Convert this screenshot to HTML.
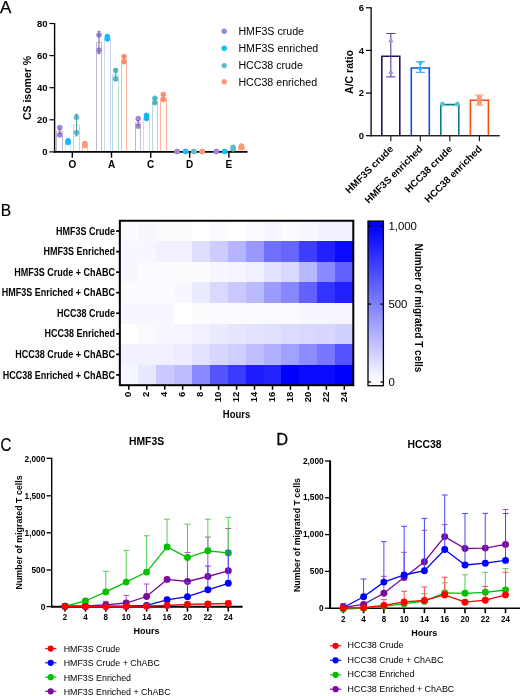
<!DOCTYPE html>
<html lang="en"><head><meta charset="utf-8"><title>Figure</title>
<style>
html,body{margin:0;padding:0;background:#fff;}
body{width:520px;height:696px;overflow:hidden;}
svg{display:block;font-family:'Liberation Sans', sans-serif;}
</style></head><body>
<svg width="520" height="696" viewBox="0 0 520 696">
<rect width="520" height="696" fill="#fff"/>
<text transform="translate(0.0 12.7) scale(1.0 1)" font-size="17" font-weight="normal" fill="#000" stroke="#000" stroke-width="0.25">A</text>
<text transform="translate(0.8 216.3) scale(0.9 1)" font-size="17.3" font-weight="normal" fill="#000" stroke="#000" stroke-width="0.25">B</text>
<text transform="translate(0.45 450.7) scale(0.83 1)" font-size="18" font-weight="normal" fill="#000" stroke="#000" stroke-width="0.25">C</text>
<text transform="translate(276.3 444.8) scale(0.95 1)" font-size="17.3" font-weight="normal" fill="#000" stroke="#000" stroke-width="0.25">D</text>
<line x1="49.40" y1="151.90" x2="54.60" y2="151.90" stroke="#000" stroke-width="1.2"/>
<text x="47.6" y="154.9" font-size="9.5" font-weight="bold" text-anchor="end" fill="#000">0</text>
<line x1="49.40" y1="119.80" x2="54.60" y2="119.80" stroke="#000" stroke-width="1.2"/>
<text x="47.6" y="122.80000000000001" font-size="9.5" font-weight="bold" text-anchor="end" fill="#000">20</text>
<line x1="49.40" y1="87.70" x2="54.60" y2="87.70" stroke="#000" stroke-width="1.2"/>
<text x="47.6" y="90.7" font-size="9.5" font-weight="bold" text-anchor="end" fill="#000">40</text>
<line x1="49.40" y1="55.60" x2="54.60" y2="55.60" stroke="#000" stroke-width="1.2"/>
<text x="47.6" y="58.60000000000001" font-size="9.5" font-weight="bold" text-anchor="end" fill="#000">60</text>
<line x1="49.40" y1="23.50" x2="54.60" y2="23.50" stroke="#000" stroke-width="1.2"/>
<text x="47.6" y="26.5" font-size="9.5" font-weight="bold" text-anchor="end" fill="#000">80</text>
<text transform="translate(31.2 88) rotate(-90) scale(0.9 1)" font-size="11.67" font-weight="bold" text-anchor="middle" fill="#000">CS isomer %</text>
<line x1="72.30" y1="151.90" x2="72.30" y2="157.70" stroke="#000" stroke-width="1.4"/>
<text x="72.3" y="167.8" font-size="10" font-weight="bold" text-anchor="middle" fill="#000">O</text>
<path d="M56.5 151.90 V131.36 H62.5 V151.90" fill="#fff" stroke="#b9b1d0" stroke-width="0.9"/>
<path d="M65.5 151.90 V141.95 H70.5 V151.90" fill="#fff" stroke="#cdd4fb" stroke-width="0.9"/>
<path d="M73.5 151.90 V125.10 H79.5 V151.90" fill="#fff" stroke="#b0d6d9" stroke-width="0.9"/>
<path d="M82.5 151.90 V144.68 H87.5 V151.90" fill="#fff" stroke="#ffae95" stroke-width="0.9"/>
<line x1="111.50" y1="151.90" x2="111.50" y2="157.70" stroke="#000" stroke-width="1.4"/>
<text x="111.5" y="167.8" font-size="10" font-weight="bold" text-anchor="middle" fill="#000">A</text>
<path d="M96.5 151.90 V42.44 H101.5 V151.90" fill="#fff" stroke="#b9b1d0" stroke-width="0.9"/>
<path d="M104.5 151.90 V38.27 H110.5 V151.90" fill="#fff" stroke="#cdd4fb" stroke-width="0.9"/>
<path d="M112.5 151.90 V74.86 H118.5 V151.90" fill="#fff" stroke="#b0d6d9" stroke-width="0.9"/>
<path d="M121.5 151.90 V59.61 H126.5 V151.90" fill="#fff" stroke="#ffae95" stroke-width="0.9"/>
<line x1="150.70" y1="151.90" x2="150.70" y2="157.70" stroke="#000" stroke-width="1.4"/>
<text x="150.7" y="167.8" font-size="10" font-weight="bold" text-anchor="middle" fill="#000">C</text>
<path d="M135.5 151.90 V122.69 H140.5 V151.90" fill="#fff" stroke="#b9b1d0" stroke-width="0.9"/>
<path d="M143.5 151.90 V117.71 H149.5 V151.90" fill="#fff" stroke="#cdd4fb" stroke-width="0.9"/>
<path d="M152.5 151.90 V100.86 H157.5 V151.90" fill="#fff" stroke="#b0d6d9" stroke-width="0.9"/>
<path d="M160.5 151.90 V97.81 H166.5 V151.90" fill="#fff" stroke="#ffae95" stroke-width="0.9"/>
<line x1="189.70" y1="151.90" x2="189.70" y2="157.70" stroke="#000" stroke-width="1.4"/>
<text x="189.7" y="167.8" font-size="10" font-weight="bold" text-anchor="middle" fill="#000">D</text>
<line x1="228.90" y1="151.90" x2="228.90" y2="157.70" stroke="#000" stroke-width="1.4"/>
<text x="228.9" y="167.8" font-size="10" font-weight="bold" text-anchor="middle" fill="#000">E</text>
<path d="M230.5 151.90 V148.21 H235.5 V151.90" fill="#fff" stroke="#b0d6d9" stroke-width="0.9"/>
<path d="M238.5 151.90 V147.09 H244.5 V151.90" fill="#fff" stroke="#ffae95" stroke-width="0.9"/>
<line x1="54.60" y1="23.00" x2="54.60" y2="152.80" stroke="#000" stroke-width="1.4"/>
<line x1="53.90" y1="151.90" x2="247.50" y2="151.90" stroke="#000" stroke-width="1.9"/>
<circle cx="59.75" cy="127.50" r="2.75" fill="#a384d8"/>
<circle cx="59.75" cy="135.05" r="2.75" fill="#a384d8"/>
<line x1="59.75" y1="129.27" x2="59.75" y2="133.44" stroke="#6f55ab" stroke-width="0.95"/>
<line x1="58.15" y1="129.27" x2="61.35" y2="129.27" stroke="#6f55ab" stroke-width="0.8"/>
<line x1="58.15" y1="133.44" x2="61.35" y2="133.44" stroke="#6f55ab" stroke-width="0.8"/>
<circle cx="68.10" cy="140.83" r="2.75" fill="#12bdfb"/>
<circle cx="68.10" cy="142.59" r="2.75" fill="#12bdfb"/>
<circle cx="76.50" cy="117.23" r="2.75" fill="#62bcc6"/>
<circle cx="76.50" cy="132.48" r="2.75" fill="#62bcc6"/>
<line x1="76.50" y1="114.26" x2="76.50" y2="135.93" stroke="#3f9dac" stroke-width="0.95"/>
<line x1="74.90" y1="114.26" x2="78.10" y2="114.26" stroke="#3f9dac" stroke-width="0.8"/>
<line x1="74.90" y1="135.93" x2="78.10" y2="135.93" stroke="#3f9dac" stroke-width="0.8"/>
<circle cx="84.85" cy="143.55" r="2.75" fill="#fb9a78"/>
<circle cx="84.85" cy="145.48" r="2.75" fill="#fb9a78"/>
<circle cx="98.95" cy="35.06" r="2.75" fill="#a384d8"/>
<circle cx="98.95" cy="50.14" r="2.75" fill="#a384d8"/>
<line x1="98.95" y1="31.28" x2="98.95" y2="53.59" stroke="#6f55ab" stroke-width="0.95"/>
<line x1="97.35" y1="31.28" x2="100.55" y2="31.28" stroke="#6f55ab" stroke-width="0.8"/>
<line x1="97.35" y1="53.59" x2="100.55" y2="53.59" stroke="#6f55ab" stroke-width="0.8"/>
<circle cx="107.30" cy="36.50" r="2.75" fill="#12bdfb"/>
<circle cx="107.30" cy="39.07" r="2.75" fill="#12bdfb"/>
<circle cx="115.70" cy="70.53" r="2.75" fill="#62bcc6"/>
<circle cx="115.70" cy="78.87" r="2.75" fill="#62bcc6"/>
<line x1="115.70" y1="69.08" x2="115.70" y2="80.64" stroke="#3f9dac" stroke-width="0.95"/>
<line x1="114.10" y1="69.08" x2="117.30" y2="69.08" stroke="#3f9dac" stroke-width="0.8"/>
<line x1="114.10" y1="80.64" x2="117.30" y2="80.64" stroke="#3f9dac" stroke-width="0.8"/>
<circle cx="124.05" cy="56.56" r="2.75" fill="#fb9a78"/>
<circle cx="124.05" cy="61.86" r="2.75" fill="#fb9a78"/>
<line x1="124.05" y1="56.40" x2="124.05" y2="62.82" stroke="#f07a55" stroke-width="0.95"/>
<line x1="122.45" y1="56.40" x2="125.65" y2="56.40" stroke="#f07a55" stroke-width="0.8"/>
<line x1="122.45" y1="62.82" x2="125.65" y2="62.82" stroke="#f07a55" stroke-width="0.8"/>
<circle cx="138.15" cy="118.60" r="2.75" fill="#a384d8"/>
<circle cx="138.15" cy="126.22" r="2.75" fill="#a384d8"/>
<line x1="138.15" y1="120.60" x2="138.15" y2="124.78" stroke="#6f55ab" stroke-width="0.95"/>
<line x1="136.55" y1="120.60" x2="139.75" y2="120.60" stroke="#6f55ab" stroke-width="0.8"/>
<line x1="136.55" y1="124.78" x2="139.75" y2="124.78" stroke="#6f55ab" stroke-width="0.8"/>
<circle cx="146.50" cy="115.15" r="2.75" fill="#12bdfb"/>
<circle cx="146.50" cy="118.60" r="2.75" fill="#12bdfb"/>
<line x1="146.50" y1="115.95" x2="146.50" y2="119.48" stroke="#12a5e8" stroke-width="0.95"/>
<line x1="144.90" y1="115.95" x2="148.10" y2="115.95" stroke="#12a5e8" stroke-width="0.8"/>
<line x1="144.90" y1="119.48" x2="148.10" y2="119.48" stroke="#12a5e8" stroke-width="0.8"/>
<circle cx="154.90" cy="98.13" r="2.75" fill="#62bcc6"/>
<circle cx="154.90" cy="102.63" r="2.75" fill="#62bcc6"/>
<line x1="154.90" y1="98.29" x2="154.90" y2="103.43" stroke="#3f9dac" stroke-width="0.95"/>
<line x1="153.30" y1="98.29" x2="156.50" y2="98.29" stroke="#3f9dac" stroke-width="0.8"/>
<line x1="153.30" y1="103.43" x2="156.50" y2="103.43" stroke="#3f9dac" stroke-width="0.8"/>
<circle cx="163.25" cy="94.28" r="2.75" fill="#fb9a78"/>
<circle cx="163.25" cy="99.58" r="2.75" fill="#fb9a78"/>
<line x1="163.25" y1="95.40" x2="163.25" y2="100.22" stroke="#f07a55" stroke-width="0.95"/>
<line x1="161.65" y1="95.40" x2="164.85" y2="95.40" stroke="#f07a55" stroke-width="0.8"/>
<line x1="161.65" y1="100.22" x2="164.85" y2="100.22" stroke="#f07a55" stroke-width="0.8"/>
<circle cx="177.15" cy="151.50" r="2.75" fill="#a384d8"/>
<circle cx="177.15" cy="151.50" r="2.75" fill="#a384d8"/>
<circle cx="185.50" cy="151.50" r="2.75" fill="#12bdfb"/>
<circle cx="185.50" cy="151.50" r="2.75" fill="#12bdfb"/>
<circle cx="193.90" cy="151.50" r="2.75" fill="#62bcc6"/>
<circle cx="193.90" cy="151.50" r="2.75" fill="#62bcc6"/>
<circle cx="202.25" cy="151.50" r="2.75" fill="#fb9a78"/>
<circle cx="202.25" cy="151.50" r="2.75" fill="#fb9a78"/>
<circle cx="216.35" cy="151.50" r="2.75" fill="#a384d8"/>
<circle cx="216.35" cy="151.50" r="2.75" fill="#a384d8"/>
<circle cx="224.70" cy="151.50" r="2.75" fill="#12bdfb"/>
<circle cx="224.70" cy="151.50" r="2.75" fill="#12bdfb"/>
<circle cx="233.10" cy="147.25" r="2.75" fill="#62bcc6"/>
<circle cx="233.10" cy="149.01" r="2.75" fill="#62bcc6"/>
<circle cx="241.45" cy="146.12" r="2.75" fill="#fb9a78"/>
<circle cx="241.45" cy="147.73" r="2.75" fill="#fb9a78"/>
<circle cx="224.2" cy="31.2" r="2.7" fill="#a384d8"/>
<text x="238.4" y="34.9" font-size="10.65" font-weight="normal" text-anchor="start" fill="#000">HMF3S crude</text>
<circle cx="224.2" cy="48.2" r="2.7" fill="#12bdfb"/>
<text x="238.4" y="51.900000000000006" font-size="10.65" font-weight="normal" text-anchor="start" fill="#000">HMF3S enriched</text>
<circle cx="224.2" cy="65.6" r="2.7" fill="#62bcc6"/>
<text x="238.4" y="69.3" font-size="10.65" font-weight="normal" text-anchor="start" fill="#000">HCC38 crude</text>
<circle cx="224.2" cy="81.8" r="2.7" fill="#fb9a78"/>
<text x="238.4" y="85.5" font-size="10.65" font-weight="normal" text-anchor="start" fill="#000">HCC38 enriched</text>
<line x1="371.10" y1="7.20" x2="371.10" y2="136.30" stroke="#000" stroke-width="1.3"/>
<line x1="370.50" y1="135.70" x2="499.60" y2="135.70" stroke="#222" stroke-width="1.3"/>
<line x1="365.90" y1="135.70" x2="371.10" y2="135.70" stroke="#000" stroke-width="1.2"/>
<text x="364.1" y="139.0" font-size="9.5" font-weight="bold" text-anchor="end" fill="#000">0</text>
<line x1="365.90" y1="93.06" x2="371.10" y2="93.06" stroke="#000" stroke-width="1.2"/>
<text x="364.1" y="96.35999999999999" font-size="9.5" font-weight="bold" text-anchor="end" fill="#000">2</text>
<line x1="365.90" y1="50.42" x2="371.10" y2="50.42" stroke="#000" stroke-width="1.2"/>
<text x="364.1" y="53.719999999999985" font-size="9.5" font-weight="bold" text-anchor="end" fill="#000">4</text>
<line x1="365.90" y1="7.78" x2="371.10" y2="7.78" stroke="#000" stroke-width="1.2"/>
<text x="364.1" y="11.079999999999988" font-size="9.5" font-weight="bold" text-anchor="end" fill="#000">6</text>
<text x="352.5" y="72" font-size="10.5" font-weight="bold" text-anchor="middle" fill="#000" transform="rotate(-90 352.5 72)">A/C ratio</text>
<path d="M381.80 135.70 V56.20 H399.80 V135.70" fill="#fff" stroke="#2a0f5c" stroke-width="1.6"/>
<line x1="390.80" y1="135.70" x2="390.80" y2="141.20" stroke="#222" stroke-width="1.2"/>
<path d="M411.30 135.70 V68.00 H429.30 V135.70" fill="#fff" stroke="#0f4df2" stroke-width="1.6"/>
<line x1="420.30" y1="135.70" x2="420.30" y2="141.20" stroke="#222" stroke-width="1.2"/>
<path d="M440.80 135.70 V104.60 H458.80 V135.70" fill="#fff" stroke="#0f7a8c" stroke-width="1.6"/>
<line x1="449.80" y1="135.70" x2="449.80" y2="141.20" stroke="#222" stroke-width="1.2"/>
<path d="M470.40 135.70 V100.30 H488.40 V135.70" fill="#fff" stroke="#ff4a12" stroke-width="1.6"/>
<line x1="479.40" y1="135.70" x2="479.40" y2="141.20" stroke="#222" stroke-width="1.2"/>
<line x1="370.50" y1="135.70" x2="499.60" y2="135.70" stroke="#222" stroke-width="1.3"/>
<line x1="390.80" y1="33.50" x2="390.80" y2="76.90" stroke="#5a3c9e" stroke-width="1.1"/>
<line x1="386.20" y1="33.50" x2="395.40" y2="33.50" stroke="#5a3c9e" stroke-width="1.0"/>
<line x1="386.20" y1="76.90" x2="395.40" y2="76.90" stroke="#5a3c9e" stroke-width="1.0"/>
<polygon points="388.20,42.30 393.40,42.30 390.80,37.20" fill="#a88fd8"/>
<polygon points="388.20,73.80 393.40,73.80 390.80,68.70" fill="#a88fd8"/>
<line x1="420.30" y1="61.80" x2="420.30" y2="72.30" stroke="#3a8cf5" stroke-width="1.0"/>
<line x1="415.70" y1="61.80" x2="424.90" y2="61.80" stroke="#3a8cf5" stroke-width="1.0"/>
<line x1="415.70" y1="72.30" x2="424.90" y2="72.30" stroke="#3a8cf5" stroke-width="1.0"/>
<polygon points="417.60,61.60 423.00,61.60 420.30,66.60" fill="#22c8ff"/>
<polygon points="417.60,67.80 423.00,67.80 420.30,72.80" fill="#22c8ff"/>
<circle cx="442.40" cy="104.2" r="2.4" fill="#5cc4cc"/>
<circle cx="457.30" cy="104.2" r="2.4" fill="#5cc4cc"/>
<line x1="479.40" y1="95.00" x2="479.40" y2="105.20" stroke="#ff9a7a" stroke-width="1.0"/>
<line x1="475.00" y1="95.00" x2="483.80" y2="95.00" stroke="#ff9a7a" stroke-width="1.0"/>
<line x1="475.00" y1="105.20" x2="483.80" y2="105.20" stroke="#ff9a7a" stroke-width="1.0"/>
<rect x="476.90" y="95.50" width="5" height="5" fill="#ff9a7a"/>
<rect x="476.90" y="99.80" width="5" height="5" fill="#ff9a7a"/>
<text x="393.8" y="149.5" font-size="9.85" font-weight="bold" text-anchor="end" fill="#000" transform="rotate(-45 393.8 149.5)">HMF3S crude</text>
<text x="423.3" y="149.5" font-size="9.85" font-weight="bold" text-anchor="end" fill="#000" transform="rotate(-45 423.3 149.5)">HMF3S enriched</text>
<text x="452.8" y="149.5" font-size="9.85" font-weight="bold" text-anchor="end" fill="#000" transform="rotate(-45 452.8 149.5)">HCC38 crude</text>
<text x="482.4" y="149.5" font-size="9.85" font-weight="bold" text-anchor="end" fill="#000" transform="rotate(-45 482.4 149.5)">HCC38 enriched</text>
<g shape-rendering="crispEdges">
<rect x="119.85" y="220.75" width="18.26" height="20.86" fill="rgb(250,250,255)"/>
<rect x="137.81" y="220.75" width="18.26" height="20.86" fill="rgb(247,247,255)"/>
<rect x="155.77" y="220.75" width="18.26" height="20.86" fill="rgb(252,252,255)"/>
<rect x="173.72" y="220.75" width="18.26" height="20.86" fill="rgb(252,252,255)"/>
<rect x="191.68" y="220.75" width="18.26" height="20.86" fill="rgb(255,255,255)"/>
<rect x="209.64" y="220.75" width="18.26" height="20.86" fill="rgb(250,250,255)"/>
<rect x="227.60" y="220.75" width="18.26" height="20.86" fill="rgb(255,255,255)"/>
<rect x="245.55" y="220.75" width="18.26" height="20.86" fill="rgb(250,250,255)"/>
<rect x="263.51" y="220.75" width="18.26" height="20.86" fill="rgb(245,245,255)"/>
<rect x="281.47" y="220.75" width="18.26" height="20.86" fill="rgb(250,250,255)"/>
<rect x="299.43" y="220.75" width="18.26" height="20.86" fill="rgb(247,247,255)"/>
<rect x="317.38" y="220.75" width="18.26" height="20.86" fill="rgb(242,242,255)"/>
<rect x="335.34" y="220.75" width="18.26" height="20.86" fill="rgb(240,240,255)"/>
<rect x="119.85" y="241.31" width="18.26" height="20.86" fill="rgb(247,247,255)"/>
<rect x="137.81" y="241.31" width="18.26" height="20.86" fill="rgb(247,247,255)"/>
<rect x="155.77" y="241.31" width="18.26" height="20.86" fill="rgb(240,240,255)"/>
<rect x="173.72" y="241.31" width="18.26" height="20.86" fill="rgb(240,240,255)"/>
<rect x="191.68" y="241.31" width="18.26" height="20.86" fill="rgb(222,222,255)"/>
<rect x="209.64" y="241.31" width="18.26" height="20.86" fill="rgb(204,204,255)"/>
<rect x="227.60" y="241.31" width="18.26" height="20.86" fill="rgb(181,181,255)"/>
<rect x="245.55" y="241.31" width="18.26" height="20.86" fill="rgb(153,153,255)"/>
<rect x="263.51" y="241.31" width="18.26" height="20.86" fill="rgb(112,112,255)"/>
<rect x="281.47" y="241.31" width="18.26" height="20.86" fill="rgb(102,102,255)"/>
<rect x="299.43" y="241.31" width="18.26" height="20.86" fill="rgb(61,61,255)"/>
<rect x="317.38" y="241.31" width="18.26" height="20.86" fill="rgb(33,33,255)"/>
<rect x="335.34" y="241.31" width="18.26" height="20.86" fill="rgb(10,10,255)"/>
<rect x="119.85" y="261.86" width="18.26" height="20.86" fill="rgb(247,247,255)"/>
<rect x="137.81" y="261.86" width="18.26" height="20.86" fill="rgb(250,250,255)"/>
<rect x="155.77" y="261.86" width="18.26" height="20.86" fill="rgb(250,250,255)"/>
<rect x="173.72" y="261.86" width="18.26" height="20.86" fill="rgb(252,252,255)"/>
<rect x="191.68" y="261.86" width="18.26" height="20.86" fill="rgb(252,252,255)"/>
<rect x="209.64" y="261.86" width="18.26" height="20.86" fill="rgb(247,247,255)"/>
<rect x="227.60" y="261.86" width="18.26" height="20.86" fill="rgb(245,245,255)"/>
<rect x="245.55" y="261.86" width="18.26" height="20.86" fill="rgb(240,240,255)"/>
<rect x="263.51" y="261.86" width="18.26" height="20.86" fill="rgb(227,227,255)"/>
<rect x="281.47" y="261.86" width="18.26" height="20.86" fill="rgb(217,217,255)"/>
<rect x="299.43" y="261.86" width="18.26" height="20.86" fill="rgb(184,184,255)"/>
<rect x="317.38" y="261.86" width="18.26" height="20.86" fill="rgb(138,138,255)"/>
<rect x="335.34" y="261.86" width="18.26" height="20.86" fill="rgb(97,97,255)"/>
<rect x="119.85" y="282.42" width="18.26" height="20.86" fill="rgb(250,250,255)"/>
<rect x="137.81" y="282.42" width="18.26" height="20.86" fill="rgb(250,250,255)"/>
<rect x="155.77" y="282.42" width="18.26" height="20.86" fill="rgb(250,250,255)"/>
<rect x="173.72" y="282.42" width="18.26" height="20.86" fill="rgb(247,247,255)"/>
<rect x="191.68" y="282.42" width="18.26" height="20.86" fill="rgb(235,235,255)"/>
<rect x="209.64" y="282.42" width="18.26" height="20.86" fill="rgb(217,217,255)"/>
<rect x="227.60" y="282.42" width="18.26" height="20.86" fill="rgb(201,201,255)"/>
<rect x="245.55" y="282.42" width="18.26" height="20.86" fill="rgb(186,186,255)"/>
<rect x="263.51" y="282.42" width="18.26" height="20.86" fill="rgb(156,156,255)"/>
<rect x="281.47" y="282.42" width="18.26" height="20.86" fill="rgb(135,135,255)"/>
<rect x="299.43" y="282.42" width="18.26" height="20.86" fill="rgb(97,97,255)"/>
<rect x="317.38" y="282.42" width="18.26" height="20.86" fill="rgb(51,51,255)"/>
<rect x="335.34" y="282.42" width="18.26" height="20.86" fill="rgb(31,31,255)"/>
<rect x="119.85" y="302.98" width="18.26" height="20.86" fill="rgb(247,247,255)"/>
<rect x="137.81" y="302.98" width="18.26" height="20.86" fill="rgb(247,247,255)"/>
<rect x="155.77" y="302.98" width="18.26" height="20.86" fill="rgb(247,247,255)"/>
<rect x="173.72" y="302.98" width="18.26" height="20.86" fill="rgb(255,255,255)"/>
<rect x="191.68" y="302.98" width="18.26" height="20.86" fill="rgb(252,252,255)"/>
<rect x="209.64" y="302.98" width="18.26" height="20.86" fill="rgb(250,250,255)"/>
<rect x="227.60" y="302.98" width="18.26" height="20.86" fill="rgb(250,250,255)"/>
<rect x="245.55" y="302.98" width="18.26" height="20.86" fill="rgb(250,250,255)"/>
<rect x="263.51" y="302.98" width="18.26" height="20.86" fill="rgb(250,250,255)"/>
<rect x="281.47" y="302.98" width="18.26" height="20.86" fill="rgb(250,250,255)"/>
<rect x="299.43" y="302.98" width="18.26" height="20.86" fill="rgb(247,247,255)"/>
<rect x="317.38" y="302.98" width="18.26" height="20.86" fill="rgb(247,247,255)"/>
<rect x="335.34" y="302.98" width="18.26" height="20.86" fill="rgb(245,245,255)"/>
<rect x="119.85" y="323.53" width="18.26" height="20.86" fill="rgb(255,255,255)"/>
<rect x="137.81" y="323.53" width="18.26" height="20.86" fill="rgb(250,250,255)"/>
<rect x="155.77" y="323.53" width="18.26" height="20.86" fill="rgb(247,247,255)"/>
<rect x="173.72" y="323.53" width="18.26" height="20.86" fill="rgb(245,245,255)"/>
<rect x="191.68" y="323.53" width="18.26" height="20.86" fill="rgb(242,242,255)"/>
<rect x="209.64" y="323.53" width="18.26" height="20.86" fill="rgb(235,235,255)"/>
<rect x="227.60" y="323.53" width="18.26" height="20.86" fill="rgb(230,230,255)"/>
<rect x="245.55" y="323.53" width="18.26" height="20.86" fill="rgb(227,227,255)"/>
<rect x="263.51" y="323.53" width="18.26" height="20.86" fill="rgb(224,224,255)"/>
<rect x="281.47" y="323.53" width="18.26" height="20.86" fill="rgb(219,219,255)"/>
<rect x="299.43" y="323.53" width="18.26" height="20.86" fill="rgb(217,217,255)"/>
<rect x="317.38" y="323.53" width="18.26" height="20.86" fill="rgb(214,214,255)"/>
<rect x="335.34" y="323.53" width="18.26" height="20.86" fill="rgb(209,209,255)"/>
<rect x="119.85" y="344.09" width="18.26" height="20.86" fill="rgb(242,242,255)"/>
<rect x="137.81" y="344.09" width="18.26" height="20.86" fill="rgb(242,242,255)"/>
<rect x="155.77" y="344.09" width="18.26" height="20.86" fill="rgb(240,240,255)"/>
<rect x="173.72" y="344.09" width="18.26" height="20.86" fill="rgb(237,237,255)"/>
<rect x="191.68" y="344.09" width="18.26" height="20.86" fill="rgb(227,227,255)"/>
<rect x="209.64" y="344.09" width="18.26" height="20.86" fill="rgb(214,214,255)"/>
<rect x="227.60" y="344.09" width="18.26" height="20.86" fill="rgb(207,207,255)"/>
<rect x="245.55" y="344.09" width="18.26" height="20.86" fill="rgb(191,191,255)"/>
<rect x="263.51" y="344.09" width="18.26" height="20.86" fill="rgb(176,176,255)"/>
<rect x="281.47" y="344.09" width="18.26" height="20.86" fill="rgb(161,161,255)"/>
<rect x="299.43" y="344.09" width="18.26" height="20.86" fill="rgb(140,140,255)"/>
<rect x="317.38" y="344.09" width="18.26" height="20.86" fill="rgb(120,120,255)"/>
<rect x="335.34" y="344.09" width="18.26" height="20.86" fill="rgb(82,82,255)"/>
<rect x="119.85" y="364.64" width="18.26" height="20.86" fill="rgb(247,247,255)"/>
<rect x="137.81" y="364.64" width="18.26" height="20.86" fill="rgb(232,232,255)"/>
<rect x="155.77" y="364.64" width="18.26" height="20.86" fill="rgb(201,201,255)"/>
<rect x="173.72" y="364.64" width="18.26" height="20.86" fill="rgb(189,189,255)"/>
<rect x="191.68" y="364.64" width="18.26" height="20.86" fill="rgb(138,138,255)"/>
<rect x="209.64" y="364.64" width="18.26" height="20.86" fill="rgb(84,84,255)"/>
<rect x="227.60" y="364.64" width="18.26" height="20.86" fill="rgb(59,59,255)"/>
<rect x="245.55" y="364.64" width="18.26" height="20.86" fill="rgb(28,28,255)"/>
<rect x="263.51" y="364.64" width="18.26" height="20.86" fill="rgb(36,36,255)"/>
<rect x="281.47" y="364.64" width="18.26" height="20.86" fill="rgb(0,0,255)"/>
<rect x="299.43" y="364.64" width="18.26" height="20.86" fill="rgb(10,10,255)"/>
<rect x="317.38" y="364.64" width="18.26" height="20.86" fill="rgb(10,10,255)"/>
<rect x="335.34" y="364.64" width="18.26" height="20.86" fill="rgb(0,0,255)"/>
</g>
<rect x="119.85" y="220.75" width="233.45" height="164.45" fill="none" stroke="#000" stroke-width="2.0"/>
<line x1="116.15" y1="231.03" x2="119.85" y2="231.03" stroke="#000" stroke-width="1.7"/>
<text transform="translate(114.9 234.62812499999998) scale(0.9 1)" font-size="10.00" font-weight="bold" text-anchor="end" fill="#000">HMF3S Crude</text>
<line x1="116.15" y1="251.58" x2="119.85" y2="251.58" stroke="#000" stroke-width="1.7"/>
<text transform="translate(114.9 255.184375) scale(0.9 1)" font-size="10.00" font-weight="bold" text-anchor="end" fill="#000">HMF3S Enriched</text>
<line x1="116.15" y1="272.14" x2="119.85" y2="272.14" stroke="#000" stroke-width="1.7"/>
<text transform="translate(114.9 275.740625) scale(0.9 1)" font-size="10.00" font-weight="bold" text-anchor="end" fill="#000">HMF3S Crude + ChABC</text>
<line x1="116.15" y1="292.70" x2="119.85" y2="292.70" stroke="#000" stroke-width="1.7"/>
<text transform="translate(114.9 296.296875) scale(0.9 1)" font-size="10.00" font-weight="bold" text-anchor="end" fill="#000">HMF3S Enriched + ChABC</text>
<line x1="116.15" y1="313.25" x2="119.85" y2="313.25" stroke="#000" stroke-width="1.7"/>
<text transform="translate(114.9 316.85312500000003) scale(0.9 1)" font-size="10.00" font-weight="bold" text-anchor="end" fill="#000">HCC38 Crude</text>
<line x1="116.15" y1="333.81" x2="119.85" y2="333.81" stroke="#000" stroke-width="1.7"/>
<text transform="translate(114.9 337.409375) scale(0.9 1)" font-size="10.00" font-weight="bold" text-anchor="end" fill="#000">HCC38 Enriched</text>
<line x1="116.15" y1="354.37" x2="119.85" y2="354.37" stroke="#000" stroke-width="1.7"/>
<text transform="translate(114.9 357.96562500000005) scale(0.9 1)" font-size="10.00" font-weight="bold" text-anchor="end" fill="#000">HCC38 Crude + ChABC</text>
<line x1="116.15" y1="374.92" x2="119.85" y2="374.92" stroke="#000" stroke-width="1.7"/>
<text transform="translate(114.9 378.521875) scale(0.9 1)" font-size="10.00" font-weight="bold" text-anchor="end" fill="#000">HCC38 Enriched + ChABC</text>
<line x1="128.83" y1="385.20" x2="128.83" y2="389.70" stroke="#000" stroke-width="1.5"/>
<text x="131.42884615384614" y="391.6" font-size="9.5" font-weight="bold" text-anchor="end" fill="#000" transform="rotate(-90 131.42884615384614 391.6)">0</text>
<line x1="146.79" y1="385.20" x2="146.79" y2="389.70" stroke="#000" stroke-width="1.5"/>
<text x="149.38653846153844" y="391.6" font-size="9.5" font-weight="bold" text-anchor="end" fill="#000" transform="rotate(-90 149.38653846153844 391.6)">2</text>
<line x1="164.74" y1="385.20" x2="164.74" y2="389.70" stroke="#000" stroke-width="1.5"/>
<text x="167.34423076923076" y="391.6" font-size="9.5" font-weight="bold" text-anchor="end" fill="#000" transform="rotate(-90 167.34423076923076 391.6)">4</text>
<line x1="182.70" y1="385.20" x2="182.70" y2="389.70" stroke="#000" stroke-width="1.5"/>
<text x="185.30192307692306" y="391.6" font-size="9.5" font-weight="bold" text-anchor="end" fill="#000" transform="rotate(-90 185.30192307692306 391.6)">6</text>
<line x1="200.66" y1="385.20" x2="200.66" y2="389.70" stroke="#000" stroke-width="1.5"/>
<text x="203.2596153846154" y="391.6" font-size="9.5" font-weight="bold" text-anchor="end" fill="#000" transform="rotate(-90 203.2596153846154 391.6)">8</text>
<line x1="218.62" y1="385.20" x2="218.62" y2="389.70" stroke="#000" stroke-width="1.5"/>
<text x="221.21730769230768" y="391.6" font-size="9.5" font-weight="bold" text-anchor="end" fill="#000" transform="rotate(-90 221.21730769230768 391.6)">10</text>
<line x1="236.57" y1="385.20" x2="236.57" y2="389.70" stroke="#000" stroke-width="1.5"/>
<text x="239.17499999999998" y="391.6" font-size="9.5" font-weight="bold" text-anchor="end" fill="#000" transform="rotate(-90 239.17499999999998 391.6)">12</text>
<line x1="254.53" y1="385.20" x2="254.53" y2="389.70" stroke="#000" stroke-width="1.5"/>
<text x="257.1326923076923" y="391.6" font-size="9.5" font-weight="bold" text-anchor="end" fill="#000" transform="rotate(-90 257.1326923076923 391.6)">14</text>
<line x1="272.49" y1="385.20" x2="272.49" y2="389.70" stroke="#000" stroke-width="1.5"/>
<text x="275.09038461538466" y="391.6" font-size="9.5" font-weight="bold" text-anchor="end" fill="#000" transform="rotate(-90 275.09038461538466 391.6)">16</text>
<line x1="290.45" y1="385.20" x2="290.45" y2="389.70" stroke="#000" stroke-width="1.5"/>
<text x="293.04807692307696" y="391.6" font-size="9.5" font-weight="bold" text-anchor="end" fill="#000" transform="rotate(-90 293.04807692307696 391.6)">18</text>
<line x1="308.41" y1="385.20" x2="308.41" y2="389.70" stroke="#000" stroke-width="1.5"/>
<text x="311.00576923076926" y="391.6" font-size="9.5" font-weight="bold" text-anchor="end" fill="#000" transform="rotate(-90 311.00576923076926 391.6)">20</text>
<line x1="326.36" y1="385.20" x2="326.36" y2="389.70" stroke="#000" stroke-width="1.5"/>
<text x="328.96346153846156" y="391.6" font-size="9.5" font-weight="bold" text-anchor="end" fill="#000" transform="rotate(-90 328.96346153846156 391.6)">22</text>
<line x1="344.32" y1="385.20" x2="344.32" y2="389.70" stroke="#000" stroke-width="1.5"/>
<text x="346.92115384615386" y="391.6" font-size="9.5" font-weight="bold" text-anchor="end" fill="#000" transform="rotate(-90 346.92115384615386 391.6)">24</text>
<text transform="translate(236.5 418.0) scale(0.9 1)" font-size="10.56" font-weight="bold" text-anchor="middle" fill="#000">Hours</text>
<defs><linearGradient id="cb" x1="0" y1="0" x2="0" y2="1"><stop offset="0" stop-color="#0000ff"/><stop offset="0.032" stop-color="#0000ff"/><stop offset="0.978" stop-color="#ffffff"/><stop offset="1" stop-color="#ffffff"/></linearGradient></defs>
<rect x="368.0" y="221.1" width="15.4" height="164.6" fill="url(#cb)" stroke="#000" stroke-width="1.3"/>
<line x1="368.00" y1="226.20" x2="371.00" y2="226.20" stroke="#000" stroke-width="1.3"/>
<line x1="380.40" y1="226.20" x2="383.40" y2="226.20" stroke="#000" stroke-width="1.3"/>
<text x="388.4" y="230.2" font-size="11.4" font-weight="normal" text-anchor="start" fill="#000">1,000</text>
<line x1="368.00" y1="304.10" x2="371.00" y2="304.10" stroke="#000" stroke-width="1.3"/>
<line x1="380.40" y1="304.10" x2="383.40" y2="304.10" stroke="#000" stroke-width="1.3"/>
<text x="388.4" y="308.1" font-size="11.4" font-weight="normal" text-anchor="start" fill="#000">500</text>
<line x1="368.00" y1="382.00" x2="371.00" y2="382.00" stroke="#000" stroke-width="1.3"/>
<line x1="380.40" y1="382.00" x2="383.40" y2="382.00" stroke="#000" stroke-width="1.3"/>
<text x="388.4" y="386.0" font-size="11.4" font-weight="normal" text-anchor="start" fill="#000">0</text>
<text x="414.5" y="307.9" font-size="10" font-weight="bold" text-anchor="middle" fill="#000" transform="rotate(90 414.5 307.9)">Number of migrated T cells</text>
<line x1="51.70" y1="457.70" x2="51.70" y2="607.25" stroke="#000" stroke-width="1.4"/>
<line x1="51.05" y1="606.70" x2="242.60" y2="606.70" stroke="#000" stroke-width="2.0"/>
<line x1="46.50" y1="606.60" x2="51.70" y2="606.60" stroke="#000" stroke-width="1.3"/>
<text x="45.300000000000004" y="609.9" font-size="8.3" font-weight="bold" text-anchor="end" fill="#000">0</text>
<line x1="46.50" y1="570.00" x2="51.70" y2="570.00" stroke="#000" stroke-width="1.3"/>
<text x="45.300000000000004" y="573.3" font-size="8.3" font-weight="bold" text-anchor="end" fill="#000">500</text>
<line x1="46.50" y1="532.80" x2="51.70" y2="532.80" stroke="#000" stroke-width="1.3"/>
<text x="45.300000000000004" y="536.0999999999999" font-size="8.3" font-weight="bold" text-anchor="end" fill="#000">1,000</text>
<line x1="46.50" y1="495.80" x2="51.70" y2="495.80" stroke="#000" stroke-width="1.3"/>
<text x="45.300000000000004" y="499.1" font-size="8.3" font-weight="bold" text-anchor="end" fill="#000">1,500</text>
<line x1="46.50" y1="458.30" x2="51.70" y2="458.30" stroke="#000" stroke-width="1.3"/>
<text x="45.300000000000004" y="461.6" font-size="8.3" font-weight="bold" text-anchor="end" fill="#000">2,000</text>
<line x1="65.00" y1="606.60" x2="65.00" y2="611.60" stroke="#000" stroke-width="1.6"/>
<text transform="translate(65.0 620.1) scale(0.93 1)" font-size="8.60" font-weight="bold" text-anchor="middle" fill="#000">2</text>
<line x1="85.41" y1="606.60" x2="85.41" y2="611.60" stroke="#000" stroke-width="1.6"/>
<text transform="translate(85.41 620.1) scale(0.93 1)" font-size="8.60" font-weight="bold" text-anchor="middle" fill="#000">4</text>
<line x1="105.82" y1="606.60" x2="105.82" y2="611.60" stroke="#000" stroke-width="1.6"/>
<text transform="translate(105.82 620.1) scale(0.93 1)" font-size="8.60" font-weight="bold" text-anchor="middle" fill="#000">8</text>
<line x1="126.23" y1="606.60" x2="126.23" y2="611.60" stroke="#000" stroke-width="1.6"/>
<text transform="translate(126.23 620.1) scale(0.93 1)" font-size="8.60" font-weight="bold" text-anchor="middle" fill="#000">10</text>
<line x1="146.64" y1="606.60" x2="146.64" y2="611.60" stroke="#000" stroke-width="1.6"/>
<text transform="translate(146.64 620.1) scale(0.93 1)" font-size="8.60" font-weight="bold" text-anchor="middle" fill="#000">14</text>
<line x1="167.05" y1="606.60" x2="167.05" y2="611.60" stroke="#000" stroke-width="1.6"/>
<text transform="translate(167.05 620.1) scale(0.93 1)" font-size="8.60" font-weight="bold" text-anchor="middle" fill="#000">16</text>
<line x1="187.46" y1="606.60" x2="187.46" y2="611.60" stroke="#000" stroke-width="1.6"/>
<text transform="translate(187.46 620.1) scale(0.93 1)" font-size="8.60" font-weight="bold" text-anchor="middle" fill="#000">20</text>
<line x1="207.87" y1="606.60" x2="207.87" y2="611.60" stroke="#000" stroke-width="1.6"/>
<text transform="translate(207.87 620.1) scale(0.93 1)" font-size="8.60" font-weight="bold" text-anchor="middle" fill="#000">22</text>
<line x1="228.28" y1="606.60" x2="228.28" y2="611.60" stroke="#000" stroke-width="1.6"/>
<text transform="translate(228.28 620.1) scale(0.93 1)" font-size="8.60" font-weight="bold" text-anchor="middle" fill="#000">24</text>
<text x="146.5" y="445.0" font-size="10.4" font-weight="bold" text-anchor="middle" fill="#000">HMF3S</text>
<text transform="translate(21.6 532.4) rotate(-90) scale(0.91 1)" font-size="9.73" font-weight="bold" text-anchor="middle" fill="#000">Number of migrated T cells</text>
<text x="146.5" y="634.3" font-size="9" font-weight="bold" text-anchor="middle" fill="#000">Hours</text>
<line x1="105.82" y1="604.90" x2="105.82" y2="601.30" stroke="#b04cc4" stroke-width="1.0"/>
<line x1="102.92" y1="601.30" x2="108.72" y2="601.30" stroke="#b04cc4" stroke-width="1.0"/>
<line x1="126.23" y1="603.00" x2="126.23" y2="595.40" stroke="#b04cc4" stroke-width="1.0"/>
<line x1="123.33" y1="595.40" x2="129.13" y2="595.40" stroke="#b04cc4" stroke-width="1.0"/>
<line x1="146.64" y1="596.50" x2="146.64" y2="584.00" stroke="#b04cc4" stroke-width="1.0"/>
<line x1="143.74" y1="584.00" x2="149.54" y2="584.00" stroke="#b04cc4" stroke-width="1.0"/>
<line x1="187.46" y1="581.50" x2="187.46" y2="552.50" stroke="#b04cc4" stroke-width="1.0"/>
<line x1="184.56" y1="552.50" x2="190.36" y2="552.50" stroke="#b04cc4" stroke-width="1.0"/>
<line x1="207.87" y1="576.50" x2="207.87" y2="537.10" stroke="#b04cc4" stroke-width="1.0"/>
<line x1="204.97" y1="537.10" x2="210.77" y2="537.10" stroke="#b04cc4" stroke-width="1.0"/>
<line x1="228.28" y1="570.80" x2="228.28" y2="528.50" stroke="#b04cc4" stroke-width="1.0"/>
<line x1="225.38" y1="528.50" x2="231.18" y2="528.50" stroke="#b04cc4" stroke-width="1.0"/>
<polyline points="65.0,606.3 85.4,606.0 105.8,604.9 126.2,603.0 146.6,596.5 167.1,579.4 187.5,581.5 207.9,576.5 228.3,570.8" fill="none" stroke="#7a0a9a" stroke-width="1.3"/>
<circle cx="65.0" cy="606.3" r="3.45" fill="#7a0a9a"/>
<circle cx="85.4" cy="606.0" r="3.45" fill="#7a0a9a"/>
<circle cx="105.8" cy="604.9" r="3.45" fill="#7a0a9a"/>
<circle cx="126.2" cy="603.0" r="3.45" fill="#7a0a9a"/>
<circle cx="146.6" cy="596.5" r="3.45" fill="#7a0a9a"/>
<circle cx="167.1" cy="579.4" r="3.45" fill="#7a0a9a"/>
<circle cx="187.5" cy="581.5" r="3.45" fill="#7a0a9a"/>
<circle cx="207.9" cy="576.5" r="3.45" fill="#7a0a9a"/>
<circle cx="228.3" cy="570.8" r="3.45" fill="#7a0a9a"/>
<line x1="105.82" y1="591.90" x2="105.82" y2="571.30" stroke="#4fd04f" stroke-width="1.0"/>
<line x1="102.92" y1="571.30" x2="108.72" y2="571.30" stroke="#4fd04f" stroke-width="1.0"/>
<line x1="126.23" y1="582.10" x2="126.23" y2="550.40" stroke="#4fd04f" stroke-width="1.0"/>
<line x1="123.33" y1="550.40" x2="129.13" y2="550.40" stroke="#4fd04f" stroke-width="1.0"/>
<line x1="146.64" y1="572.10" x2="146.64" y2="535.80" stroke="#4fd04f" stroke-width="1.0"/>
<line x1="143.74" y1="535.80" x2="149.54" y2="535.80" stroke="#4fd04f" stroke-width="1.0"/>
<line x1="167.05" y1="546.90" x2="167.05" y2="519.20" stroke="#4fd04f" stroke-width="1.0"/>
<line x1="164.15" y1="519.20" x2="169.95" y2="519.20" stroke="#4fd04f" stroke-width="1.0"/>
<line x1="187.46" y1="557.50" x2="187.46" y2="524.20" stroke="#4fd04f" stroke-width="1.0"/>
<line x1="184.56" y1="524.20" x2="190.36" y2="524.20" stroke="#4fd04f" stroke-width="1.0"/>
<line x1="207.87" y1="550.80" x2="207.87" y2="519.20" stroke="#4fd04f" stroke-width="1.0"/>
<line x1="204.97" y1="519.20" x2="210.77" y2="519.20" stroke="#4fd04f" stroke-width="1.0"/>
<line x1="228.28" y1="552.90" x2="228.28" y2="517.30" stroke="#4fd04f" stroke-width="1.0"/>
<line x1="225.38" y1="517.30" x2="231.18" y2="517.30" stroke="#4fd04f" stroke-width="1.0"/>
<polyline points="65.0,606.3 85.4,601.0 105.8,591.9 126.2,582.1 146.6,572.1 167.1,546.9 187.5,557.5 207.9,550.8 228.3,552.9" fill="none" stroke="#00c000" stroke-width="1.3"/>
<circle cx="65.0" cy="606.3" r="3.45" fill="#00c000"/>
<circle cx="85.4" cy="601.0" r="3.45" fill="#00c000"/>
<circle cx="105.8" cy="591.9" r="3.45" fill="#00c000"/>
<circle cx="126.2" cy="582.1" r="3.45" fill="#00c000"/>
<circle cx="146.6" cy="572.1" r="3.45" fill="#00c000"/>
<circle cx="167.1" cy="546.9" r="3.45" fill="#00c000"/>
<circle cx="187.5" cy="557.5" r="3.45" fill="#00c000"/>
<circle cx="207.9" cy="550.8" r="3.45" fill="#00c000"/>
<circle cx="228.3" cy="552.9" r="3.45" fill="#00c000"/>
<line x1="187.46" y1="596.70" x2="187.46" y2="582.50" stroke="#4848ff" stroke-width="1.0"/>
<line x1="184.56" y1="582.50" x2="190.36" y2="582.50" stroke="#4848ff" stroke-width="1.0"/>
<line x1="207.87" y1="589.80" x2="207.87" y2="566.00" stroke="#4848ff" stroke-width="1.0"/>
<line x1="204.97" y1="566.00" x2="210.77" y2="566.00" stroke="#4848ff" stroke-width="1.0"/>
<line x1="228.28" y1="583.30" x2="228.28" y2="550.40" stroke="#4848ff" stroke-width="1.0"/>
<line x1="225.38" y1="550.40" x2="231.18" y2="550.40" stroke="#4848ff" stroke-width="1.0"/>
<polyline points="65.0,606.5 85.4,606.5 105.8,606.3 126.2,606.2 146.6,605.4 167.1,599.8 187.5,596.7 207.9,589.8 228.3,583.3" fill="none" stroke="#0000ff" stroke-width="1.3"/>
<circle cx="65.0" cy="606.5" r="3.45" fill="#0000ff"/>
<circle cx="85.4" cy="606.5" r="3.45" fill="#0000ff"/>
<circle cx="105.8" cy="606.3" r="3.45" fill="#0000ff"/>
<circle cx="126.2" cy="606.2" r="3.45" fill="#0000ff"/>
<circle cx="146.6" cy="605.4" r="3.45" fill="#0000ff"/>
<circle cx="167.1" cy="599.8" r="3.45" fill="#0000ff"/>
<circle cx="187.5" cy="596.7" r="3.45" fill="#0000ff"/>
<circle cx="207.9" cy="589.8" r="3.45" fill="#0000ff"/>
<circle cx="228.3" cy="583.3" r="3.45" fill="#0000ff"/>
<line x1="187.46" y1="604.40" x2="187.46" y2="602.00" stroke="#ff4d4d" stroke-width="1.0"/>
<line x1="184.56" y1="602.00" x2="190.36" y2="602.00" stroke="#ff4d4d" stroke-width="1.0"/>
<line x1="207.87" y1="604.00" x2="207.87" y2="601.50" stroke="#ff4d4d" stroke-width="1.0"/>
<line x1="204.97" y1="601.50" x2="210.77" y2="601.50" stroke="#ff4d4d" stroke-width="1.0"/>
<line x1="228.28" y1="603.50" x2="228.28" y2="601.00" stroke="#ff4d4d" stroke-width="1.0"/>
<line x1="225.38" y1="601.00" x2="231.18" y2="601.00" stroke="#ff4d4d" stroke-width="1.0"/>
<polyline points="65.0,606.5 85.4,606.5 105.8,606.5 126.2,606.4 146.6,606.2 167.1,605.5 187.5,604.4 207.9,604.0 228.3,603.5" fill="none" stroke="#ff0000" stroke-width="1.3"/>
<circle cx="65.0" cy="606.5" r="3.45" fill="#ff0000"/>
<circle cx="85.4" cy="606.5" r="3.45" fill="#ff0000"/>
<circle cx="105.8" cy="606.5" r="3.45" fill="#ff0000"/>
<circle cx="126.2" cy="606.4" r="3.45" fill="#ff0000"/>
<circle cx="146.6" cy="606.2" r="3.45" fill="#ff0000"/>
<circle cx="167.1" cy="605.5" r="3.45" fill="#ff0000"/>
<circle cx="187.5" cy="604.4" r="3.45" fill="#ff0000"/>
<circle cx="207.9" cy="604.0" r="3.45" fill="#ff0000"/>
<circle cx="228.3" cy="603.5" r="3.45" fill="#ff0000"/>
<line x1="45.00" y1="648.60" x2="56.40" y2="648.60" stroke="#ff0000" stroke-width="1.1"/>
<circle cx="50.7" cy="648.6" r="3.1" fill="#ff0000"/>
<text x="63.7" y="652.1" font-size="8.85" font-weight="normal" text-anchor="start" fill="#000">HMF3S Crude</text>
<line x1="45.00" y1="662.80" x2="56.40" y2="662.80" stroke="#0000ff" stroke-width="1.1"/>
<circle cx="50.7" cy="662.8" r="3.1" fill="#0000ff"/>
<text x="63.7" y="666.3" font-size="8.85" font-weight="normal" text-anchor="start" fill="#000">HMF3S Crude + ChABC</text>
<line x1="45.00" y1="677.20" x2="56.40" y2="677.20" stroke="#00c000" stroke-width="1.1"/>
<circle cx="50.7" cy="677.2" r="3.1" fill="#00c000"/>
<text x="63.7" y="680.7" font-size="8.85" font-weight="normal" text-anchor="start" fill="#000">HMF3S Enriched</text>
<line x1="45.00" y1="691.30" x2="56.40" y2="691.30" stroke="#7a0a9a" stroke-width="1.1"/>
<circle cx="50.7" cy="691.3" r="3.1" fill="#7a0a9a"/>
<text x="63.7" y="694.8" font-size="8.85" font-weight="normal" text-anchor="start" fill="#000">HMF3S Enriched + ChABC</text>
<line x1="330.10" y1="460.40" x2="330.10" y2="608.85" stroke="#000" stroke-width="2.0"/>
<line x1="329.45" y1="608.20" x2="520.00" y2="608.20" stroke="#000" stroke-width="1.5"/>
<line x1="324.90" y1="608.20" x2="330.10" y2="608.20" stroke="#000" stroke-width="1.3"/>
<text x="323.70000000000005" y="610.7" font-size="8.3" font-weight="bold" text-anchor="end" fill="#000">0</text>
<line x1="324.90" y1="571.40" x2="330.10" y2="571.40" stroke="#000" stroke-width="1.3"/>
<text x="323.70000000000005" y="573.9000000000001" font-size="8.3" font-weight="bold" text-anchor="end" fill="#000">500</text>
<line x1="324.90" y1="534.60" x2="330.10" y2="534.60" stroke="#000" stroke-width="1.3"/>
<text x="323.70000000000005" y="537.1" font-size="8.3" font-weight="bold" text-anchor="end" fill="#000">1,000</text>
<line x1="324.90" y1="497.80" x2="330.10" y2="497.80" stroke="#000" stroke-width="1.3"/>
<text x="323.70000000000005" y="500.3" font-size="8.3" font-weight="bold" text-anchor="end" fill="#000">1,500</text>
<line x1="324.90" y1="461.00" x2="330.10" y2="461.00" stroke="#000" stroke-width="1.3"/>
<text x="323.70000000000005" y="463.5" font-size="8.3" font-weight="bold" text-anchor="end" fill="#000">2,000</text>
<line x1="343.30" y1="608.20" x2="343.30" y2="613.20" stroke="#000" stroke-width="1.6"/>
<text transform="translate(343.3 621.7) scale(0.93 1)" font-size="8.60" font-weight="bold" text-anchor="middle" fill="#000">2</text>
<line x1="363.58" y1="608.20" x2="363.58" y2="613.20" stroke="#000" stroke-width="1.6"/>
<text transform="translate(363.58000000000004 621.7) scale(0.93 1)" font-size="8.60" font-weight="bold" text-anchor="middle" fill="#000">4</text>
<line x1="383.86" y1="608.20" x2="383.86" y2="613.20" stroke="#000" stroke-width="1.6"/>
<text transform="translate(383.86 621.7) scale(0.93 1)" font-size="8.60" font-weight="bold" text-anchor="middle" fill="#000">8</text>
<line x1="404.14" y1="608.20" x2="404.14" y2="613.20" stroke="#000" stroke-width="1.6"/>
<text transform="translate(404.14 621.7) scale(0.93 1)" font-size="8.60" font-weight="bold" text-anchor="middle" fill="#000">10</text>
<line x1="424.42" y1="608.20" x2="424.42" y2="613.20" stroke="#000" stroke-width="1.6"/>
<text transform="translate(424.42 621.7) scale(0.93 1)" font-size="8.60" font-weight="bold" text-anchor="middle" fill="#000">14</text>
<line x1="444.70" y1="608.20" x2="444.70" y2="613.20" stroke="#000" stroke-width="1.6"/>
<text transform="translate(444.70000000000005 621.7) scale(0.93 1)" font-size="8.60" font-weight="bold" text-anchor="middle" fill="#000">16</text>
<line x1="464.98" y1="608.20" x2="464.98" y2="613.20" stroke="#000" stroke-width="1.6"/>
<text transform="translate(464.98 621.7) scale(0.93 1)" font-size="8.60" font-weight="bold" text-anchor="middle" fill="#000">20</text>
<line x1="485.26" y1="608.20" x2="485.26" y2="613.20" stroke="#000" stroke-width="1.6"/>
<text transform="translate(485.26 621.7) scale(0.93 1)" font-size="8.60" font-weight="bold" text-anchor="middle" fill="#000">22</text>
<line x1="505.54" y1="608.20" x2="505.54" y2="613.20" stroke="#000" stroke-width="1.6"/>
<text transform="translate(505.54 621.7) scale(0.93 1)" font-size="8.60" font-weight="bold" text-anchor="middle" fill="#000">24</text>
<text x="424.5" y="447.9" font-size="10.4" font-weight="bold" text-anchor="middle" fill="#000">HCC38</text>
<text transform="translate(299.8 535.0) rotate(-90) scale(0.91 1)" font-size="9.73" font-weight="bold" text-anchor="middle" fill="#000">Number of migrated T cells</text>
<text x="424.3" y="635.8" font-size="9" font-weight="bold" text-anchor="middle" fill="#000">Hours</text>
<line x1="343.30" y1="607.40" x2="343.30" y2="603.60" stroke="#b04cc4" stroke-width="1.0"/>
<line x1="340.40" y1="603.60" x2="346.20" y2="603.60" stroke="#b04cc4" stroke-width="1.0"/>
<line x1="383.86" y1="593.30" x2="383.86" y2="576.30" stroke="#b04cc4" stroke-width="1.0"/>
<line x1="380.96" y1="576.30" x2="386.76" y2="576.30" stroke="#b04cc4" stroke-width="1.0"/>
<line x1="404.14" y1="577.50" x2="404.14" y2="552.30" stroke="#b04cc4" stroke-width="1.0"/>
<line x1="401.24" y1="552.30" x2="407.04" y2="552.30" stroke="#b04cc4" stroke-width="1.0"/>
<line x1="424.42" y1="561.70" x2="424.42" y2="530.30" stroke="#b04cc4" stroke-width="1.0"/>
<line x1="421.52" y1="530.30" x2="427.32" y2="530.30" stroke="#b04cc4" stroke-width="1.0"/>
<line x1="444.70" y1="536.60" x2="444.70" y2="524.60" stroke="#b04cc4" stroke-width="1.0"/>
<line x1="441.80" y1="524.60" x2="447.60" y2="524.60" stroke="#b04cc4" stroke-width="1.0"/>
<line x1="505.54" y1="544.40" x2="505.54" y2="509.50" stroke="#b04cc4" stroke-width="1.0"/>
<line x1="502.64" y1="509.50" x2="508.44" y2="509.50" stroke="#b04cc4" stroke-width="1.0"/>
<polyline points="343.3,607.4 363.6,604.4 383.9,593.3 404.1,577.5 424.4,561.7 444.7,536.6 465.0,548.5 485.3,548.1 505.5,544.4" fill="none" stroke="#7a0a9a" stroke-width="1.3"/>
<circle cx="343.3" cy="607.4" r="3.45" fill="#7a0a9a"/>
<circle cx="363.6" cy="604.4" r="3.45" fill="#7a0a9a"/>
<circle cx="383.9" cy="593.3" r="3.45" fill="#7a0a9a"/>
<circle cx="404.1" cy="577.5" r="3.45" fill="#7a0a9a"/>
<circle cx="424.4" cy="561.7" r="3.45" fill="#7a0a9a"/>
<circle cx="444.7" cy="536.6" r="3.45" fill="#7a0a9a"/>
<circle cx="465.0" cy="548.5" r="3.45" fill="#7a0a9a"/>
<circle cx="485.3" cy="548.1" r="3.45" fill="#7a0a9a"/>
<circle cx="505.5" cy="544.4" r="3.45" fill="#7a0a9a"/>
<line x1="424.42" y1="601.20" x2="424.42" y2="593.60" stroke="#4fd04f" stroke-width="1.0"/>
<line x1="421.52" y1="593.60" x2="427.32" y2="593.60" stroke="#4fd04f" stroke-width="1.0"/>
<line x1="444.70" y1="592.90" x2="444.70" y2="582.80" stroke="#4fd04f" stroke-width="1.0"/>
<line x1="441.80" y1="582.80" x2="447.60" y2="582.80" stroke="#4fd04f" stroke-width="1.0"/>
<line x1="464.98" y1="593.30" x2="464.98" y2="574.70" stroke="#4fd04f" stroke-width="1.0"/>
<line x1="462.08" y1="574.70" x2="467.88" y2="574.70" stroke="#4fd04f" stroke-width="1.0"/>
<line x1="485.26" y1="592.30" x2="485.26" y2="572.30" stroke="#4fd04f" stroke-width="1.0"/>
<line x1="482.36" y1="572.30" x2="488.16" y2="572.30" stroke="#4fd04f" stroke-width="1.0"/>
<line x1="505.54" y1="590.00" x2="505.54" y2="568.70" stroke="#4fd04f" stroke-width="1.0"/>
<line x1="502.64" y1="568.70" x2="508.44" y2="568.70" stroke="#4fd04f" stroke-width="1.0"/>
<polyline points="343.3,609.0 363.6,608.2 383.9,606.3 404.1,603.8 424.4,601.2 444.7,592.9 465.0,593.3 485.3,592.3 505.5,590.0" fill="none" stroke="#00c000" stroke-width="1.3"/>
<circle cx="343.3" cy="609.0" r="3.45" fill="#00c000"/>
<circle cx="363.6" cy="608.2" r="3.45" fill="#00c000"/>
<circle cx="383.9" cy="606.3" r="3.45" fill="#00c000"/>
<circle cx="404.1" cy="603.8" r="3.45" fill="#00c000"/>
<circle cx="424.4" cy="601.2" r="3.45" fill="#00c000"/>
<circle cx="444.7" cy="592.9" r="3.45" fill="#00c000"/>
<circle cx="465.0" cy="593.3" r="3.45" fill="#00c000"/>
<circle cx="485.3" cy="592.3" r="3.45" fill="#00c000"/>
<circle cx="505.5" cy="590.0" r="3.45" fill="#00c000"/>
<line x1="343.30" y1="607.50" x2="343.30" y2="603.80" stroke="#4848ff" stroke-width="1.0"/>
<line x1="340.40" y1="603.80" x2="346.20" y2="603.80" stroke="#4848ff" stroke-width="1.0"/>
<line x1="363.58" y1="596.70" x2="363.58" y2="579.00" stroke="#4848ff" stroke-width="1.0"/>
<line x1="360.68" y1="579.00" x2="366.48" y2="579.00" stroke="#4848ff" stroke-width="1.0"/>
<line x1="383.86" y1="582.10" x2="383.86" y2="541.70" stroke="#4848ff" stroke-width="1.0"/>
<line x1="380.96" y1="541.70" x2="386.76" y2="541.70" stroke="#4848ff" stroke-width="1.0"/>
<line x1="404.14" y1="575.00" x2="404.14" y2="526.30" stroke="#4848ff" stroke-width="1.0"/>
<line x1="401.24" y1="526.30" x2="407.04" y2="526.30" stroke="#4848ff" stroke-width="1.0"/>
<line x1="424.42" y1="570.70" x2="424.42" y2="518.40" stroke="#4848ff" stroke-width="1.0"/>
<line x1="421.52" y1="518.40" x2="427.32" y2="518.40" stroke="#4848ff" stroke-width="1.0"/>
<line x1="444.70" y1="549.50" x2="444.70" y2="495.00" stroke="#4848ff" stroke-width="1.0"/>
<line x1="441.80" y1="495.00" x2="447.60" y2="495.00" stroke="#4848ff" stroke-width="1.0"/>
<line x1="464.98" y1="565.00" x2="464.98" y2="513.50" stroke="#4848ff" stroke-width="1.0"/>
<line x1="462.08" y1="513.50" x2="467.88" y2="513.50" stroke="#4848ff" stroke-width="1.0"/>
<line x1="485.26" y1="563.20" x2="485.26" y2="513.30" stroke="#4848ff" stroke-width="1.0"/>
<line x1="482.36" y1="513.30" x2="488.16" y2="513.30" stroke="#4848ff" stroke-width="1.0"/>
<line x1="505.54" y1="560.40" x2="505.54" y2="513.50" stroke="#4848ff" stroke-width="1.0"/>
<line x1="502.64" y1="513.50" x2="508.44" y2="513.50" stroke="#4848ff" stroke-width="1.0"/>
<polyline points="343.3,607.5 363.6,596.7 383.9,582.1 404.1,575.0 424.4,570.7 444.7,549.5 465.0,565.0 485.3,563.2 505.5,560.4" fill="none" stroke="#0000ff" stroke-width="1.3"/>
<circle cx="343.3" cy="607.5" r="3.45" fill="#0000ff"/>
<circle cx="363.6" cy="596.7" r="3.45" fill="#0000ff"/>
<circle cx="383.9" cy="582.1" r="3.45" fill="#0000ff"/>
<circle cx="404.1" cy="575.0" r="3.45" fill="#0000ff"/>
<circle cx="424.4" cy="570.7" r="3.45" fill="#0000ff"/>
<circle cx="444.7" cy="549.5" r="3.45" fill="#0000ff"/>
<circle cx="465.0" cy="565.0" r="3.45" fill="#0000ff"/>
<circle cx="485.3" cy="563.2" r="3.45" fill="#0000ff"/>
<circle cx="505.5" cy="560.4" r="3.45" fill="#0000ff"/>
<line x1="383.86" y1="605.40" x2="383.86" y2="599.60" stroke="#ff4d4d" stroke-width="1.0"/>
<line x1="380.96" y1="599.60" x2="386.76" y2="599.60" stroke="#ff4d4d" stroke-width="1.0"/>
<line x1="404.14" y1="601.90" x2="404.14" y2="591.30" stroke="#ff4d4d" stroke-width="1.0"/>
<line x1="401.24" y1="591.30" x2="407.04" y2="591.30" stroke="#ff4d4d" stroke-width="1.0"/>
<line x1="424.42" y1="600.40" x2="424.42" y2="587.00" stroke="#ff4d4d" stroke-width="1.0"/>
<line x1="421.52" y1="587.00" x2="427.32" y2="587.00" stroke="#ff4d4d" stroke-width="1.0"/>
<line x1="444.70" y1="594.90" x2="444.70" y2="577.30" stroke="#ff4d4d" stroke-width="1.0"/>
<line x1="441.80" y1="577.30" x2="447.60" y2="577.30" stroke="#ff4d4d" stroke-width="1.0"/>
<line x1="485.26" y1="600.20" x2="485.26" y2="586.40" stroke="#ff4d4d" stroke-width="1.0"/>
<line x1="482.36" y1="586.40" x2="488.16" y2="586.40" stroke="#ff4d4d" stroke-width="1.0"/>
<line x1="505.54" y1="594.90" x2="505.54" y2="572.30" stroke="#ff4d4d" stroke-width="1.0"/>
<line x1="502.64" y1="572.30" x2="508.44" y2="572.30" stroke="#ff4d4d" stroke-width="1.0"/>
<polyline points="343.3,608.0 363.6,607.7 383.9,605.4 404.1,601.9 424.4,600.4 444.7,594.9 465.0,602.2 485.3,600.2 505.5,594.9" fill="none" stroke="#ff0000" stroke-width="1.3"/>
<circle cx="343.3" cy="608.0" r="3.45" fill="#ff0000"/>
<circle cx="363.6" cy="607.7" r="3.45" fill="#ff0000"/>
<circle cx="383.9" cy="605.4" r="3.45" fill="#ff0000"/>
<circle cx="404.1" cy="601.9" r="3.45" fill="#ff0000"/>
<circle cx="424.4" cy="600.4" r="3.45" fill="#ff0000"/>
<circle cx="444.7" cy="594.9" r="3.45" fill="#ff0000"/>
<circle cx="465.0" cy="602.2" r="3.45" fill="#ff0000"/>
<circle cx="485.3" cy="600.2" r="3.45" fill="#ff0000"/>
<circle cx="505.5" cy="594.9" r="3.45" fill="#ff0000"/>
<line x1="329.90" y1="645.80" x2="341.30" y2="645.80" stroke="#ff0000" stroke-width="1.1"/>
<circle cx="335.6" cy="645.8" r="3.1" fill="#ff0000"/>
<text x="347.6" y="648.3" font-size="8.92" font-weight="normal" text-anchor="start" fill="#000">HCC38 Crude</text>
<line x1="329.90" y1="660.30" x2="341.30" y2="660.30" stroke="#0000ff" stroke-width="1.1"/>
<circle cx="335.6" cy="660.3" r="3.1" fill="#0000ff"/>
<text x="347.6" y="662.8" font-size="8.92" font-weight="normal" text-anchor="start" fill="#000">HCC38 Crude + ChABC</text>
<line x1="329.90" y1="674.80" x2="341.30" y2="674.80" stroke="#00c000" stroke-width="1.1"/>
<circle cx="335.6" cy="674.8" r="3.1" fill="#00c000"/>
<text x="347.6" y="677.3" font-size="8.92" font-weight="normal" text-anchor="start" fill="#000">HCC38 Enriched</text>
<line x1="329.90" y1="689.20" x2="341.30" y2="689.20" stroke="#7a0a9a" stroke-width="1.1"/>
<circle cx="335.6" cy="689.2" r="3.1" fill="#7a0a9a"/>
<text x="347.6" y="691.7" font-size="8.92" font-weight="normal" text-anchor="start" fill="#000">HCC38 Enriched + ChABC</text>
</svg>
</body></html>
